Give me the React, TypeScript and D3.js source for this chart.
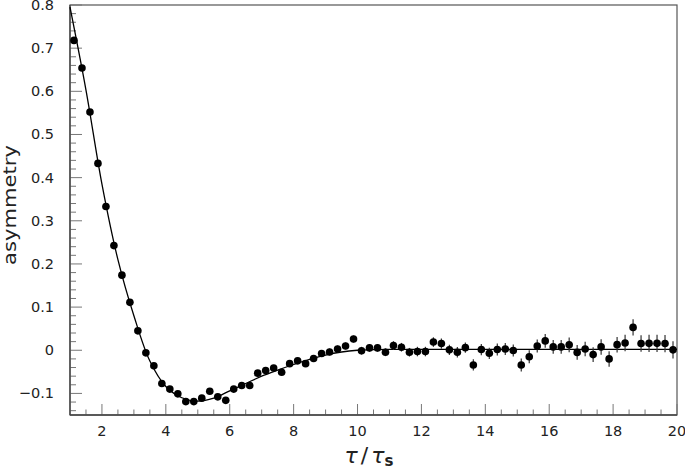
import * as d3 from 'd3';

// measured asymmetry per bin (bin centres 1.125 ... 19.875, width 0.25)
const binStart = 1;
const binWidth = 0.25;
const asym = [
  0.718, 0.654, 0.552, 0.433, 0.333, 0.2425, 0.174, 0.111, 0.045, -0.006,
  -0.036, -0.077, -0.09, -0.101, -0.119, -0.119, -0.111, -0.095, -0.108, -0.116,
  -0.09, -0.0815, -0.0815, -0.053, -0.047, -0.041, -0.051, -0.031, -0.0245, -0.031,
  -0.019, -0.0076, -0.004, 0.003, 0.01, 0.026, -0.001, 0.0055, 0.0055, -0.0046,
  0.011, 0.007, -0.0046, -0.003, -0.003, 0.019, 0.0155, 0.001, -0.0046, 0.006,
  -0.034, 0.0016, -0.007, 0.0016, 0.003, -0.0007, -0.034, -0.015, 0.01, 0.0217,
  0.0078, 0.0078, 0.0125, -0.005, 0.003, -0.01, 0.0078, -0.02, 0.013, 0.017,
  0.053, 0.0155, 0.016, 0.016, 0.0155, 0.001,
];
const asymErr = [
  0.004, 0.004, 0.004, 0.004, 0.004, 0.004, 0.004, 0.004, 0.004, 0.004,
  0.004, 0.004, 0.004, 0.004, 0.004, 0.004, 0.004, 0.004, 0.004, 0.004,
  0.005, 0.005, 0.005, 0.005, 0.006, 0.006, 0.006, 0.006, 0.007, 0.007,
  0.007, 0.007, 0.008, 0.008, 0.008, 0.008, 0.009, 0.009, 0.009, 0.009,
  0.01, 0.01, 0.01, 0.011, 0.011, 0.011, 0.012, 0.012, 0.012, 0.012,
  0.013, 0.013, 0.013, 0.014, 0.014, 0.014, 0.015, 0.015, 0.015, 0.016,
  0.016, 0.016, 0.017, 0.017, 0.017, 0.017, 0.018, 0.018, 0.018, 0.019,
  0.019, 0.019, 0.02, 0.02, 0.02, 0.02,
];

// fitted curve
const fitX = [1, 1.5, 2, 2.5, 3, 3.5, 4, 4.5, 5, 5.5, 6, 6.5, 7, 7.5, 8, 8.5, 9, 9.5, 10, 10.5, 11, 12, 14, 16, 18, 20];
const fitY = [0.795, 0.603, 0.385, 0.21, 0.08, -0.025, -0.084, -0.11, -0.118, -0.111, -0.094, -0.077, -0.06, -0.046, -0.033, -0.021, -0.011, -0.004, 0, 0.0015, 0.002, 0.002, 0.002, 0.002, 0.002, 0.002];

const xTicks = [2, 4, 6, 8, 10, 12, 14, 16, 18, 20];
const yTicks = [-0.1, 0, 0.1, 0.2, 0.3, 0.4, 0.5, 0.6, 0.7, 0.8];

const W = 685;
const H = 468;
const left = 70, right = 677, top = 5, bottom = 415;
const font = 'DejaVu Sans, sans-serif';

export default function App() {
  const x = d3.scaleLinear().domain([1, 20]).range([left, right]);
  const y = d3.scaleLinear().domain([-0.15, 0.8]).range([bottom, top]);

  const pts = asym.map((v, i) => ({ t: binStart + binWidth * (i + 0.5), v, e: asymErr[i] }));
  const fit = fitX.map((t, i) => [t, fitY[i]] as [number, number]);
  const line = d3.line<[number, number]>()
    .x(d => x(d[0]))
    .y(d => y(d[1]))
    .curve(d3.curveCatmullRom.alpha(0.5));

  const xMinor = d3.range(1.5, 20, 0.5).filter(t => t % 2 !== 0);
  const yMinor = d3.range(-0.14, 0.8, 0.02).filter(v => Math.abs(Math.round(v * 10) - v * 10) > 0.01);

  const fmt = (v: number) => (Math.abs(v) < 1e-9 ? '0' : v < 0 ? '\u2212' + d3.format('.1f')(-v) : d3.format('.1f')(v));

  return (
    <svg width={W} height={H} style={{ position: 'absolute', left: 0, top: 0, background: '#fff' }}>
      {/* frame */}
      <rect x={left} y={top} width={right - left} height={bottom - top} fill="none" stroke="#555" strokeWidth={1.2} />

      {/* ticks */}
      <g stroke="#777" strokeWidth={1}>
        {xTicks.map(t => <line key={'xt' + t} x1={x(t)} x2={x(t)} y1={bottom} y2={bottom - 11} />)}
        {xMinor.map(t => <line key={'xm' + t} x1={x(t)} x2={x(t)} y1={bottom} y2={bottom - 5.5} />)}
        {yTicks.map(v => <line key={'yt' + v} x1={left} x2={left + 12} y1={y(v)} y2={y(v)} />)}
        {yMinor.map(v => <line key={'ym' + v} x1={left} x2={left + 6} y1={y(v)} y2={y(v)} />)}
      </g>
      <line x1={left} x2={left} y1={top} y2={bottom} stroke="#444" strokeWidth={1.3} />
      <line x1={left} x2={right} y1={bottom} y2={bottom} stroke="#444" strokeWidth={1.3} />

      {/* tick labels */}
      <g fontFamily={font} fontSize={14.5} fill="#222">
        {xTicks.map(t => (
          <text key={'xl' + t} x={x(t)} y={436} textAnchor="middle">{t}</text>
        ))}
        {yTicks.map(v => (
          <text key={'yl' + v} x={54} y={y(v) + 5} textAnchor="end">{fmt(v)}</text>
        ))}
      </g>

      {/* axis titles */}
      <text transform="translate(16,205) rotate(-90)" textAnchor="middle" fontFamily={font} fontSize={17}
        fill="#222" textLength={120} lengthAdjust="spacingAndGlyphs">asymmetry</text>
      <text x={369} y={463} textAnchor="middle" fontFamily={font} fontSize={22} fill="#222">
        <tspan fontStyle="italic">τ</tspan>
        <tspan dx={3}>/</tspan>
        <tspan dx={3} fontStyle="italic">τ</tspan>
        <tspan fontSize={15} fontWeight="bold" dy={3}>s</tspan>
      </text>

      {/* fit */}
      <path d={line(fit) ?? ''} fill="none" stroke="#000" strokeWidth={1.3} />

      {/* data */}
      <g>
        {pts.map((p, i) => (
          <g key={'p' + i}>
            <line x1={x(p.t)} x2={x(p.t)} y1={y(p.v - p.e)} y2={y(p.v + p.e)} stroke="#333" strokeWidth={1.2} />
            <circle cx={x(p.t)} cy={y(p.v)} r={3.8} fill="#000" />
          </g>
        ))}
      </g>
    </svg>
  );
}
